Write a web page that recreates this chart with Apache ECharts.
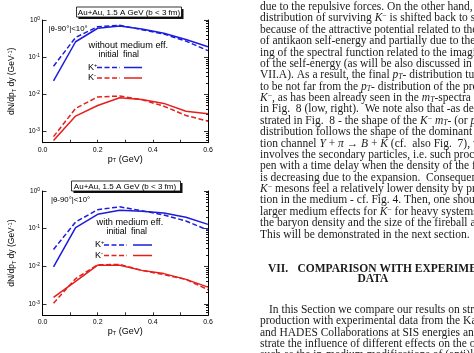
<!DOCTYPE html>
<html><head><meta charset="utf-8">
<script src="https://cdn.jsdelivr.net/npm/echarts@6/dist/echarts.min.js"></script>
<style>html,body{margin:0;padding:0;background:#fff}#c{width:474px;height:353px}</style>
</head><body><div id="c"></div>
<script>
// ---- data ----
const pT = [0.04, 0.12, 0.20, 0.28, 0.36, 0.44, 0.52, 0.60];
// upper panel: without medium effects
const kPlusInitialNoMed  = [0.057, 0.34, 0.66, 0.72, 0.55, 0.42, 0.27, 0.15];
const kPlusFinalNoMed    = [0.023, 0.26, 0.60, 0.69, 0.57, 0.44, 0.30, 0.19];
const kMinusInitialNoMed = [7.3e-4, 4.2e-3, 8.5e-3, 9.0e-3, 7.2e-3, 4.8e-3, 2.7e-3, 1.9e-3];
const kMinusFinalNoMed   = [5.7e-4, 2.6e-3, 5.0e-3, 8.1e-3, 7.3e-3, 5.7e-3, 3.5e-3, 3.0e-3];
// lower panel: with medium effects
const kPlusInitialMed  = [0.028, 0.15, 0.32, 0.38, 0.30, 0.23, 0.16, 0.091];
const kPlusFinalMed    = [0.0096, 0.107, 0.24, 0.31, 0.29, 0.26, 0.20, 0.13];
const kMinusInitialMed = [1.05e-3, 4.7e-3, 0.011, 0.0112, 7.8e-3, 6.0e-3, 4.5e-3, 2.4e-3];
const kMinusFinalMed   = [1.5e-3, 4.0e-3, 0.0107, 0.0107, 7.8e-3, 6.4e-3, 4.5e-3, 2.8e-3];
// ticks
const xTickLabels = ['0.0', '0.2', '0.4', '0.6'];
const yTickValues = [0.001, 0.01, 0.1, 1];
const yTickExponents = ['-3', '-2', '-1', '0'];
const yMinorValues = [];
[0.0001, 0.001, 0.01, 0.1].forEach(d => { for (let k = 2; k <= 9; k++) { const v = +(d * k).toPrecision(3); if (v >= 0.0005 && v < 1) yMinorValues.push(v); } });

const panelTitle = 'Au+Au, 1.5 A GeV (b < 3 fm)';
const panelNotes = ['without medium eff.', 'with medium eff.'];

const paperLines = [
  'due to the repulsive forces. On the other hand, the',
  'distribution of surviving {i|K}{sup|−} is shifted back to smaller',
  'because of the attractive potential related to the real part',
  'of antikaon self-energy and partially due to the broaden-',
  'ing of the spectral function related to the imaginary part',
  'of the self-energy (as will be also discussed in Section',
  'VII.A). As a result, the final {i|p}{s|T}- distribution turns out',
  'to be not far from the {i|p}{s|T}- distribution of the produced',
  '{i|K}{sup|−}, as has been already seen in the {i|m}{s|T}-spectra shown',
  'in Fig.  8 (low, right).  We note also that -as demon-',
  'strated in Fig.  8 - the shape of the {i|K}{sup|−} {i|m}{s|T}- (or {i|p}{s|T}-)',
  'distribution follows the shape of the dominant produc-',
  'tion channel {i|Y} + {i|π} → {i|B} + {i|K̄} (cf.  also Fig.  7), which',
  'involves the secondary particles, i.e. such processes hap-',
  'pen with a time delay when the density of the fireball',
  'is decreasing due to the expansion.  Consequently, the',
  '{i|K}{sup|−} mesons feel a relatively lower density by produc-',
  'tion in the medium - cf. Fig. 4. Then, one should expect',
  'larger medium effects for {i|K}{sup|−} for heavy systems where',
  'the baryon density and the size of the fireball are larger.',
  'This will be demonstrated in the next section.'
];
const paperHeading = ['VII.', 'COMPARISON WITH EXPERIMENTAL', 'DATA'];
const paperPara = [
  'In this Section we compare our results on strangeness',
  'production with experimental data from the KaoS, FOPI',
  'and HADES Collaborations at SIS energies and demon-',
  'strate the influence of different effects on the observables',
  'such as the in-medium modifications of (anti)kaons'
];

// ---- layout ----
const BLUE = '#1c1cdc', RED = '#e51f1c';
const SANS = 'Liberation Sans, Arial, sans-serif';
const SERIF = 'Liberation Serif, Times New Roman, serif';
const grids = [
  { left: 42.5, top: 20, width: 165.5, height: 122.7 },
  { left: 42.5, top: 191, width: 165.5, height: 124.3 }
];

const xAxes = [], yAxes = [], series = [];
grids.forEach((g, gi) => {
  xAxes.push({
    type: 'value', gridIndex: gi, min: 0, max: 0.6, interval: 0.1,
    axisLine: { lineStyle: { color: '#000', width: 1 } },
    axisTick: { inside: true, length: 3, lineStyle: { color: '#000', width: 0.8 } },
    splitLine: { show: false },
    axisLabel: { fontSize: 7, color: '#000', fontFamily: SANS, margin: 3.5,
      formatter: v => { const k = Math.round(v * 10); return k % 2 === 0 ? xTickLabels[k / 2] : ''; } },
    name: '{n|p}{s|T}{n| (GeV)}', nameLocation: 'middle', nameGap: 12,
    nameTextStyle: { color: '#000', fontFamily: SANS, fontSize: 9,
      rich: { n: { fontSize: 9, fontFamily: SANS, color: '#000' }, s: { fontSize: 5.5, fontFamily: SANS, color: '#000', verticalAlign: 'bottom', lineHeight: 6 } } }
  });
  const base = yAxes.length;
  yAxes.push({
    type: 'log', logBase: 10, gridIndex: gi, min: 0.0005, max: 1,
    axisLine: { show: true, lineStyle: { color: '#000', width: 1 } },
    axisTick: { inside: true, length: 4, customValues: yTickValues, lineStyle: { color: '#000', width: 0.8 } },
    splitLine: { show: false }, minorTick: { show: false },
    axisLabel: { customValues: yTickValues, margin: 2.5, color: '#000', fontFamily: SANS,
      formatter: v => '{b|10}{e|' + yTickExponents[Math.round(Math.log10(v)) + 3] + '}',
      rich: { b: { fontSize: 6.5, fontFamily: SANS, color: '#000', lineHeight: 8 },
              e: { fontSize: 4.8, fontFamily: SANS, color: '#000', verticalAlign: 'top', lineHeight: 5 } } },
    name: '{n|dN/dp}{s|T}{n| dy (GeV}{e|-1}{n|)}', nameLocation: 'middle', nameGap: 25.5,
    nameTextStyle: { color: '#000', fontFamily: SANS, fontSize: 8.5,
      rich: { n: { fontSize: 8.5, fontFamily: SANS, color: '#000', lineHeight: 10 },
              s: { fontSize: 5.5, fontFamily: SANS, color: '#000', verticalAlign: 'bottom', lineHeight: 6 },
              e: { fontSize: 5.5, fontFamily: SANS, color: '#000', verticalAlign: 'top', lineHeight: 6 } } }
  });
  // minor ticks left
  yAxes.push({
    type: 'log', logBase: 10, gridIndex: gi, min: 0.0005, max: 1,
    axisLine: { show: false }, axisLabel: { show: false }, splitLine: { show: false },
    axisTick: { inside: true, length: 2, customValues: yMinorValues, lineStyle: { color: '#000', width: 0.7 } }
  });
  // right axis major
  yAxes.push({
    type: 'log', logBase: 10, gridIndex: gi, min: 0.0005, max: 1, position: 'right',
    axisLine: { show: true, lineStyle: { color: '#000', width: 1 } }, axisLabel: { show: false }, splitLine: { show: false },
    axisTick: { inside: true, length: 4, customValues: yTickValues, lineStyle: { color: '#000', width: 0.8 } }
  });
  // right axis minor
  yAxes.push({
    type: 'log', logBase: 10, gridIndex: gi, min: 0.0005, max: 1, position: 'right',
    axisLine: { show: false }, axisLabel: { show: false }, splitLine: { show: false },
    axisTick: { inside: true, length: 2, customValues: yMinorValues, lineStyle: { color: '#000', width: 0.7 } }
  });
  const sets = gi === 0
    ? [[kPlusInitialNoMed, BLUE, true], [kPlusFinalNoMed, BLUE, false], [kMinusInitialNoMed, RED, true], [kMinusFinalNoMed, RED, false]]
    : [[kPlusInitialMed, BLUE, true], [kPlusFinalMed, BLUE, false], [kMinusInitialMed, RED, true], [kMinusFinalMed, RED, false]];
  sets.forEach(([vals, col, dashed]) => {
    series.push({
      type: 'line', xAxisIndex: gi, yAxisIndex: base, symbol: 'none', silent: true,
      data: pT.map((x, i) => [x, vals[i]]),
      lineStyle: { color: col, width: 1.5, type: dashed ? [5, 2.5] : 'solid' }
    });
  });
});

// ---- annotations ----
const graphic = [];
function titleBox(x, y, w, h, cx) {
  graphic.push({ type: 'rect', silent: true, shape: { x: x + 2, y: y + 2, width: w, height: h }, style: { fill: '#111' } });
  graphic.push({ type: 'rect', silent: true, shape: { x: x, y: y, width: w, height: h }, style: { fill: '#fff', stroke: '#000', lineWidth: 0.8 } });
  graphic.push({ type: 'text', silent: true, x: cx, y: y + h / 2 + 0.5,
    style: { text: panelTitle, font: '8px ' + SANS, fill: '#000', align: 'center', verticalAlign: 'middle' } });
}
titleBox(76.5, 7, 105, 10, 129);
titleBox(71.5, 181, 109, 10, 125);

function txt(x, y, s, size, align, color) {
  graphic.push({ type: 'text', silent: true, x, y,
    style: { text: s, font: size + 'px ' + SANS, fill: color || '#000', align: align || 'left', verticalAlign: 'middle',
      rich: { sup: { fontSize: size * 0.65, fontFamily: SANS, fill: color || '#000', verticalAlign: 'top', lineHeight: size * 0.7 },
              n: { fontSize: size, fontFamily: SANS, fill: color || '#000', lineHeight: size * 1.2 } } } });
}
function seg(x1, x2, y, col, dashed) {
  graphic.push({ type: 'line', silent: true, shape: { x1, y1: y, x2, y2: y },
    style: { stroke: col, lineWidth: 1.5, lineDash: dashed ? [5, 2.5] : null } });
}
function legendBlock(dy, note, noteX, kx, dx1, dx2, sx1, sx2, initX, finalX) {
  txt(noteX, 45 + dy, note, 9.2);
  txt(initX, 54.5 + dy, 'initial', 8.8, 'center');
  txt(finalX, 54.5 + dy, 'final', 8.8, 'center');
  txt(kx, 67.5 + dy, '{n|K}{sup|+}', 9);
  seg(dx1, dx2, 67.5 + dy, BLUE, true);
  seg(sx1, sx2, 67.5 + dy, BLUE, false);
  txt(kx, 78 + dy, '{n|K}{sup|-}', 9);
  seg(dx1, dx2, 78 + dy, RED, true);
  seg(sx1, sx2, 78 + dy, RED, false);
}
legendBlock(0, panelNotes[0], 88.5, 88, 97, 120, 124, 142, 108.5, 131);
legendBlock(177.5, panelNotes[1], 96.5, 95, 104, 127, 133, 152, 116.5, 139);
txt(48.5, 28.5, '|θ-90°|<10°', 7.8);
txt(51, 200, '|θ-90°|<10°', 7.8);

// ---- paper text column ----
const PF = 11.5;
const paperRich = {
  i: { fontStyle: 'italic', fontFamily: SERIF, fontSize: PF, fill: '#1a1a1a', lineHeight: 12 },
  s: { fontStyle: 'italic', fontFamily: SERIF, fontSize: 7.8, fill: '#1a1a1a', verticalAlign: 'bottom', lineHeight: 8 },
  sup: { fontFamily: SERIF, fontSize: 7.8, fill: '#1a1a1a', verticalAlign: 'top', lineHeight: 8 }
};
function ptxt(x, y, s, bold) {
  graphic.push({ type: 'text', silent: true, x, y,
    style: { text: s, font: (bold ? 'bold ' : '') + PF + 'px ' + SERIF, fill: '#1a1a1a', align: 'left', verticalAlign: 'middle', rich: paperRich } });
}
paperLines.forEach((s, i) => ptxt(260, 7 + 11.38 * i, s));
ptxt(268, 269, paperHeading[0], true);
ptxt(297.5, 269, paperHeading[1], true);
ptxt(357.5, 279.5, paperHeading[2], true);
paperPara.forEach((s, i) => ptxt(i === 0 ? 269 : 260, 310 + 11.3 * i, s));

const chart = echarts.init(document.getElementById('c'), null, { renderer: 'canvas' });
chart.setOption({
  animation: false,
  backgroundColor: '#fff',
  grid: grids.map(g => Object.assign({ containLabel: false, show: false }, g)),
  xAxis: xAxes,
  yAxis: yAxes,
  series,
  graphic
});
</script>
</body></html>
